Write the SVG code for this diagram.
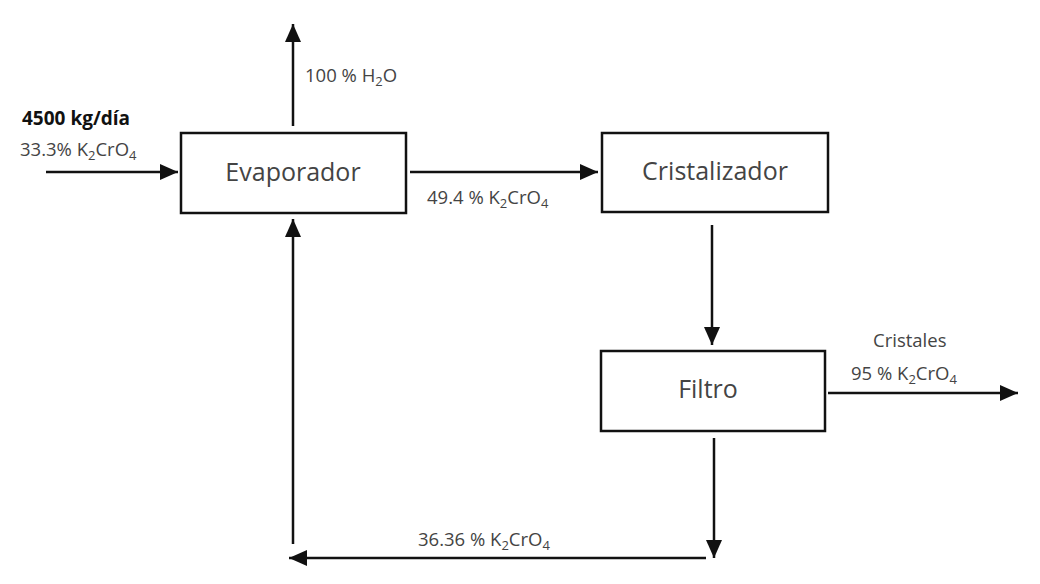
<svg xmlns="http://www.w3.org/2000/svg" width="1040" height="584" viewBox="0 0 1040 584">
<style>
.box{fill:#fff;stroke:#111;stroke-width:2.5}
.ln{fill:none;stroke:#111;stroke-width:2.5}
.t{font-family:"Open Sans","Liberation Sans",sans-serif;fill:#444}
.n{font-size:25px;text-anchor:middle}
.l{font-size:18.5px}
</style>
<defs><marker id="b" markerWidth="18" markerHeight="16" refX="18" refY="8" orient="auto" markerUnits="userSpaceOnUse"><path d="M0,0L18,8L0,16z" fill="#111"/></marker></defs>
<g id="evaporador"><rect class="box" x="181" y="133" width="225" height="80"/><text class="t n" x="293" y="181">Evaporador</text></g>
<g id="cristalizador"><rect class="box" x="602" y="133" width="226" height="79"/><text class="t n" x="715" y="180">Cristalizador</text></g>
<g id="filtro"><rect class="box" x="601" y="351" width="224" height="80"/><text class="t n" x="708" y="398">Filtro</text></g>
<g id="connectors">
<line class="ln" x1="46" y1="172" x2="178" y2="172" marker-end="url(#b)"/>
<line class="ln" x1="293" y1="126" x2="293" y2="24" marker-end="url(#b)"/>
<line class="ln" x1="410" y1="172" x2="598" y2="172" marker-end="url(#b)"/>
<line class="ln" x1="712" y1="225" x2="712" y2="345" marker-end="url(#b)"/>
<line class="ln" x1="828" y1="393" x2="1018" y2="393" marker-end="url(#b)"/>
<line class="ln" x1="714" y1="438" x2="714" y2="558" marker-end="url(#b)"/>
<line class="ln" x1="706" y1="558" x2="289" y2="558" marker-end="url(#b)"/>
<line class="ln" x1="293" y1="544" x2="293" y2="219" marker-end="url(#b)"/>
</g>
<g id="labels">
<text class="t l" x="22" y="125" style="font-weight:bold;fill:#111;font-size:19px">4500 kg/día</text>
<text class="t l" x="20" y="156">33.3% K<tspan font-size="13" dy="4">2</tspan><tspan dy="-4">CrO</tspan><tspan font-size="13" dy="4">4</tspan></text>
<text class="t l" x="305" y="82">100 % H<tspan font-size="13" dy="4">2</tspan><tspan dy="-4">O</tspan></text>
<text class="t l" x="427" y="204">49.4 % K<tspan font-size="13" dy="4">2</tspan><tspan dy="-4">CrO</tspan><tspan font-size="13" dy="4">4</tspan></text>
<text class="t l" x="873" y="347">Cristales</text>
<text class="t l" x="851" y="380">95 % K<tspan font-size="13" dy="4">2</tspan><tspan dy="-4">CrO</tspan><tspan font-size="13" dy="4">4</tspan></text>
<text class="t l" x="418" y="546">36.36 % K<tspan font-size="13" dy="4">2</tspan><tspan dy="-4">CrO</tspan><tspan font-size="13" dy="4">4</tspan></text>
</g>
</svg>
